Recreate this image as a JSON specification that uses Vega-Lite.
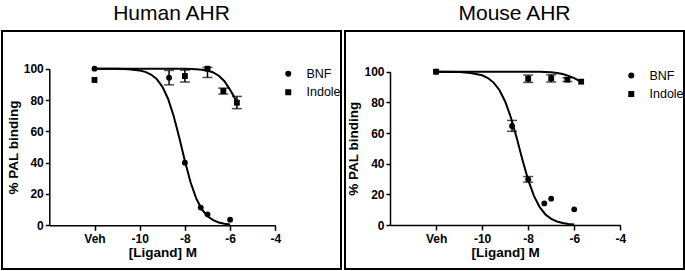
{
  "$schema": "https://vega.github.io/schema/vega-lite/v6.json",
  "padding": {"left": 1, "top": 2, "right": 0, "bottom": 0},
  "spacing": 2,
  "config": {
    "font": "Liberation Sans",
    "view": {"stroke": "black", "strokeWidth": 2},
    "title": {"fontSize": 21, "fontWeight": "normal", "offset": 7, "color": "black", "anchor": "middle"},
    "axis": {"grid": false, "domainColor": "black", "domainWidth": 1.5, "tickColor": "black", "tickWidth": 1.5, "labelColor": "black", "labelFontWeight": "bold", "labelFontSize": 12, "titleFontWeight": "bold", "titleFontSize": 13.5, "titleColor": "black", "labelOverlap": false, "labelFlush": false}
  },
  "datasets": {
    "pts": [
      {"panel": "Human", "compound": "BNF", "x": -12, "y": 100},
      {"panel": "Human", "compound": "BNF", "x": -8.7, "y": 94.3, "lo": 89.7, "hi": 98.9},
      {"panel": "Human", "compound": "BNF", "x": -8, "y": 40},
      {"panel": "Human", "compound": "BNF", "x": -7.3, "y": 11.3},
      {"panel": "Human", "compound": "BNF", "x": -7, "y": 7},
      {"panel": "Human", "compound": "BNF", "x": -6, "y": 3.6},
      {"panel": "Human", "compound": "Indole", "x": -12, "y": 92.8},
      {"panel": "Human", "compound": "Indole", "x": -8, "y": 95.3, "lo": 91.5, "hi": 99.1},
      {"panel": "Human", "compound": "Indole", "x": -7, "y": 100, "lo": 94.4, "hi": 100.8},
      {"panel": "Human", "compound": "Indole", "x": -6.3, "y": 85.7, "lo": 83.8, "hi": 87.6},
      {"panel": "Human", "compound": "Indole", "x": -5.7, "y": 78.3, "lo": 74.5, "hi": 82.3},
      {"panel": "Mouse", "compound": "BNF", "x": -12, "y": 100},
      {"panel": "Mouse", "compound": "BNF", "x": -8.7, "y": 64.6, "lo": 61.1, "hi": 68.2},
      {"panel": "Mouse", "compound": "BNF", "x": -8, "y": 29.8, "lo": 28, "hi": 31.6},
      {"panel": "Mouse", "compound": "BNF", "x": -7.3, "y": 14.1},
      {"panel": "Mouse", "compound": "BNF", "x": -7, "y": 17.2},
      {"panel": "Mouse", "compound": "BNF", "x": -6, "y": 10.2},
      {"panel": "Mouse", "compound": "Indole", "x": -12, "y": 100},
      {"panel": "Mouse", "compound": "Indole", "x": -8, "y": 95.4, "lo": 93, "hi": 97.8},
      {"panel": "Mouse", "compound": "Indole", "x": -7, "y": 95.7, "lo": 93.3, "hi": 98},
      {"panel": "Mouse", "compound": "Indole", "x": -6.3, "y": 94.8, "lo": 93.6, "hi": 96},
      {"panel": "Mouse", "compound": "Indole", "x": -5.7, "y": 93.5}
    ],
    "curve": [
      {"panel": "Human", "compound": "BNF", "x": -12, "y": 100},
      {"panel": "Human", "compound": "BNF", "x": -11, "y": 99.9},
      {"panel": "Human", "compound": "BNF", "x": -10.5, "y": 99.7},
      {"panel": "Human", "compound": "BNF", "x": -10, "y": 98.9},
      {"panel": "Human", "compound": "BNF", "x": -9.75, "y": 98},
      {"panel": "Human", "compound": "BNF", "x": -9.5, "y": 96.3},
      {"panel": "Human", "compound": "BNF", "x": -9.25, "y": 93.5},
      {"panel": "Human", "compound": "BNF", "x": -9, "y": 88.6},
      {"panel": "Human", "compound": "BNF", "x": -8.75, "y": 81},
      {"panel": "Human", "compound": "BNF", "x": -8.5, "y": 70},
      {"panel": "Human", "compound": "BNF", "x": -8.25, "y": 56},
      {"panel": "Human", "compound": "BNF", "x": -8, "y": 41},
      {"panel": "Human", "compound": "BNF", "x": -7.75, "y": 27.5},
      {"panel": "Human", "compound": "BNF", "x": -7.5, "y": 17.2},
      {"panel": "Human", "compound": "BNF", "x": -7.25, "y": 10.2},
      {"panel": "Human", "compound": "BNF", "x": -7, "y": 5.8},
      {"panel": "Human", "compound": "BNF", "x": -6.75, "y": 3.3},
      {"panel": "Human", "compound": "BNF", "x": -6.5, "y": 1.8},
      {"panel": "Human", "compound": "BNF", "x": -6.25, "y": 1},
      {"panel": "Human", "compound": "BNF", "x": -6, "y": 0.5},
      {"panel": "Human", "compound": "Indole", "x": -12, "y": 100},
      {"panel": "Human", "compound": "Indole", "x": -10, "y": 100},
      {"panel": "Human", "compound": "Indole", "x": -8, "y": 99.9},
      {"panel": "Human", "compound": "Indole", "x": -7.5, "y": 99.7},
      {"panel": "Human", "compound": "Indole", "x": -7.25, "y": 99.4},
      {"panel": "Human", "compound": "Indole", "x": -7, "y": 98.8},
      {"panel": "Human", "compound": "Indole", "x": -6.75, "y": 97.6},
      {"panel": "Human", "compound": "Indole", "x": -6.5, "y": 95.5},
      {"panel": "Human", "compound": "Indole", "x": -6.25, "y": 92},
      {"panel": "Human", "compound": "Indole", "x": -6, "y": 86.5},
      {"panel": "Human", "compound": "Indole", "x": -5.85, "y": 82.8},
      {"panel": "Human", "compound": "Indole", "x": -5.7, "y": 78.3},
      {"panel": "Mouse", "compound": "BNF", "x": -12, "y": 100},
      {"panel": "Mouse", "compound": "BNF", "x": -11, "y": 99.8},
      {"panel": "Mouse", "compound": "BNF", "x": -10.5, "y": 99.2},
      {"panel": "Mouse", "compound": "BNF", "x": -10, "y": 97.7},
      {"panel": "Mouse", "compound": "BNF", "x": -9.75, "y": 95.9},
      {"panel": "Mouse", "compound": "BNF", "x": -9.5, "y": 92.9},
      {"panel": "Mouse", "compound": "BNF", "x": -9.25, "y": 88.1},
      {"panel": "Mouse", "compound": "BNF", "x": -9, "y": 80.6},
      {"panel": "Mouse", "compound": "BNF", "x": -8.75, "y": 70.1},
      {"panel": "Mouse", "compound": "BNF", "x": -8.5, "y": 56.9},
      {"panel": "Mouse", "compound": "BNF", "x": -8.25, "y": 42.6},
      {"panel": "Mouse", "compound": "BNF", "x": -8, "y": 29.4},
      {"panel": "Mouse", "compound": "BNF", "x": -7.75, "y": 19},
      {"panel": "Mouse", "compound": "BNF", "x": -7.5, "y": 11.6},
      {"panel": "Mouse", "compound": "BNF", "x": -7.25, "y": 6.9},
      {"panel": "Mouse", "compound": "BNF", "x": -7, "y": 4},
      {"panel": "Mouse", "compound": "BNF", "x": -6.75, "y": 2.3},
      {"panel": "Mouse", "compound": "BNF", "x": -6.5, "y": 1.3},
      {"panel": "Mouse", "compound": "BNF", "x": -6.25, "y": 0.7},
      {"panel": "Mouse", "compound": "BNF", "x": -6, "y": 0.4},
      {"panel": "Mouse", "compound": "Indole", "x": -12, "y": 100},
      {"panel": "Mouse", "compound": "Indole", "x": -10, "y": 100},
      {"panel": "Mouse", "compound": "Indole", "x": -8, "y": 100},
      {"panel": "Mouse", "compound": "Indole", "x": -7.5, "y": 99.9},
      {"panel": "Mouse", "compound": "Indole", "x": -7, "y": 99.6},
      {"panel": "Mouse", "compound": "Indole", "x": -6.75, "y": 99.2},
      {"panel": "Mouse", "compound": "Indole", "x": -6.5, "y": 98.5},
      {"panel": "Mouse", "compound": "Indole", "x": -6.25, "y": 97.3},
      {"panel": "Mouse", "compound": "Indole", "x": -6, "y": 95.8},
      {"panel": "Mouse", "compound": "Indole", "x": -5.7, "y": 93.4}
    ]
  },
  "hconcat": [
    {
      "title": "Human AHR",
      "width": 339,
      "height": 238,
      "layer": [
        {
          "data": {"name": "curve"},
          "transform": [{"filter": "datum.panel == 'Human'"}],
          "mark": {"type": "line", "color": "black", "strokeWidth": 2},
          "encoding": {
            "x": {"field": "x", "type": "quantitative", "scale": {"domain": [-14, -4], "range": [47.3, 273.3], "nice": false, "zero": false}, "axis": {"values": [-12, -10, -8, -6, -4], "labelExpr": "datum.value == -12 ? 'Veh' : '' + datum.value", "offset": -43.7, "title": "[Ligand] M", "tickSize": 5, "labelPadding": 3, "titlePadding": 1}},
            "y": {"field": "y", "type": "quantitative", "scale": {"domain": [0, 100], "range": [194.3, 37.7], "nice": false, "zero": false}, "axis": {"values": [0, 20, 40, 60, 80, 100], "offset": -47.3, "title": "% PAL binding", "tickSize": 4, "labelPadding": 2, "titlePadding": 3}},
            "detail": {"field": "compound"}
          }
        },
        {
          "data": {"name": "pts"},
          "transform": [{"filter": "datum.panel == 'Human' && datum.lo != null"}],
          "mark": {"type": "rule", "color": "black", "strokeWidth": 1.5},
          "encoding": {
            "x": {"field": "x", "type": "quantitative"},
            "y": {"field": "lo", "type": "quantitative"},
            "y2": {"field": "hi"}
          }
        },
        {
          "data": {"name": "pts"},
          "transform": [{"filter": "datum.panel == 'Human' && datum.lo != null"}],
          "mark": {"type": "tick", "orient": "horizontal", "color": "black", "size": 10, "thickness": 1.5},
          "encoding": {
            "x": {"field": "x", "type": "quantitative"},
            "y": {"field": "lo", "type": "quantitative"}
          }
        },
        {
          "data": {"name": "pts"},
          "transform": [{"filter": "datum.panel == 'Human' && datum.lo != null"}],
          "mark": {"type": "tick", "orient": "horizontal", "color": "black", "size": 10, "thickness": 1.5},
          "encoding": {
            "x": {"field": "x", "type": "quantitative"},
            "y": {"field": "hi", "type": "quantitative"}
          }
        },
        {
          "data": {"name": "pts"},
          "transform": [{"filter": "datum.panel == 'Human'"}],
          "mark": {"type": "point", "filled": true, "color": "black", "opacity": 1, "size": 34},
          "encoding": {
            "x": {"field": "x", "type": "quantitative"},
            "y": {"field": "y", "type": "quantitative"},
            "shape": {"field": "compound", "type": "nominal", "scale": {"domain": ["BNF", "Indole"], "range": ["circle", "square"]}, "legend": {"title": null, "orient": "none", "legendX": 280, "legendY": 36.5, "padding": 0, "labelFontSize": 12.5, "labelFontWeight": "normal", "labelColor": "black", "labelOffset": 12, "rowPadding": 5.5, "symbolSize": 36, "symbolFillColor": "black", "symbolStrokeColor": "black", "symbolStrokeWidth": 0}}
          }
        }
      ]
    },
    {
      "title": "Mouse AHR",
      "width": 339,
      "height": 238,
      "layer": [
        {
          "data": {"name": "curve"},
          "transform": [{"filter": "datum.panel == 'Mouse'"}],
          "mark": {"type": "line", "color": "black", "strokeWidth": 2},
          "encoding": {
            "x": {"field": "x", "type": "quantitative", "scale": {"domain": [-14, -4], "range": [45, 275.3], "nice": false, "zero": false}, "axis": {"values": [-12, -10, -8, -6, -4], "labelExpr": "datum.value == -12 ? 'Veh' : '' + datum.value", "offset": -44, "title": "[Ligand] M", "tickSize": 5, "labelPadding": 3, "titlePadding": 1}},
            "y": {"field": "y", "type": "quantitative", "scale": {"domain": [0, 100], "range": [194, 40.7], "nice": false, "zero": false}, "axis": {"values": [0, 20, 40, 60, 80, 100], "offset": -45, "title": "% PAL binding", "tickSize": 4, "labelPadding": 2, "titlePadding": 3}},
            "detail": {"field": "compound"}
          }
        },
        {
          "data": {"name": "pts"},
          "transform": [{"filter": "datum.panel == 'Mouse' && datum.lo != null"}],
          "mark": {"type": "rule", "color": "black", "strokeWidth": 1.5},
          "encoding": {
            "x": {"field": "x", "type": "quantitative"},
            "y": {"field": "lo", "type": "quantitative"},
            "y2": {"field": "hi"}
          }
        },
        {
          "data": {"name": "pts"},
          "transform": [{"filter": "datum.panel == 'Mouse' && datum.lo != null"}],
          "mark": {"type": "tick", "orient": "horizontal", "color": "black", "size": 10, "thickness": 1.5},
          "encoding": {
            "x": {"field": "x", "type": "quantitative"},
            "y": {"field": "lo", "type": "quantitative"}
          }
        },
        {
          "data": {"name": "pts"},
          "transform": [{"filter": "datum.panel == 'Mouse' && datum.lo != null"}],
          "mark": {"type": "tick", "orient": "horizontal", "color": "black", "size": 10, "thickness": 1.5},
          "encoding": {
            "x": {"field": "x", "type": "quantitative"},
            "y": {"field": "hi", "type": "quantitative"}
          }
        },
        {
          "data": {"name": "pts"},
          "transform": [{"filter": "datum.panel == 'Mouse'"}],
          "mark": {"type": "point", "filled": true, "color": "black", "opacity": 1, "size": 34},
          "encoding": {
            "x": {"field": "x", "type": "quantitative"},
            "y": {"field": "y", "type": "quantitative"},
            "shape": {"field": "compound", "type": "nominal", "scale": {"domain": ["BNF", "Indole"], "range": ["circle", "square"]}, "legend": {"title": null, "orient": "none", "legendX": 280, "legendY": 38.3, "padding": 0, "labelFontSize": 12.5, "labelFontWeight": "normal", "labelColor": "black", "labelOffset": 12, "rowPadding": 5.5, "symbolSize": 36, "symbolFillColor": "black", "symbolStrokeColor": "black", "symbolStrokeWidth": 0}}
          }
        }
      ]
    }
  ],
  "resolve": {"scale": {"x": "independent", "y": "independent", "shape": "independent"}, "legend": {"shape": "independent"}}
}
